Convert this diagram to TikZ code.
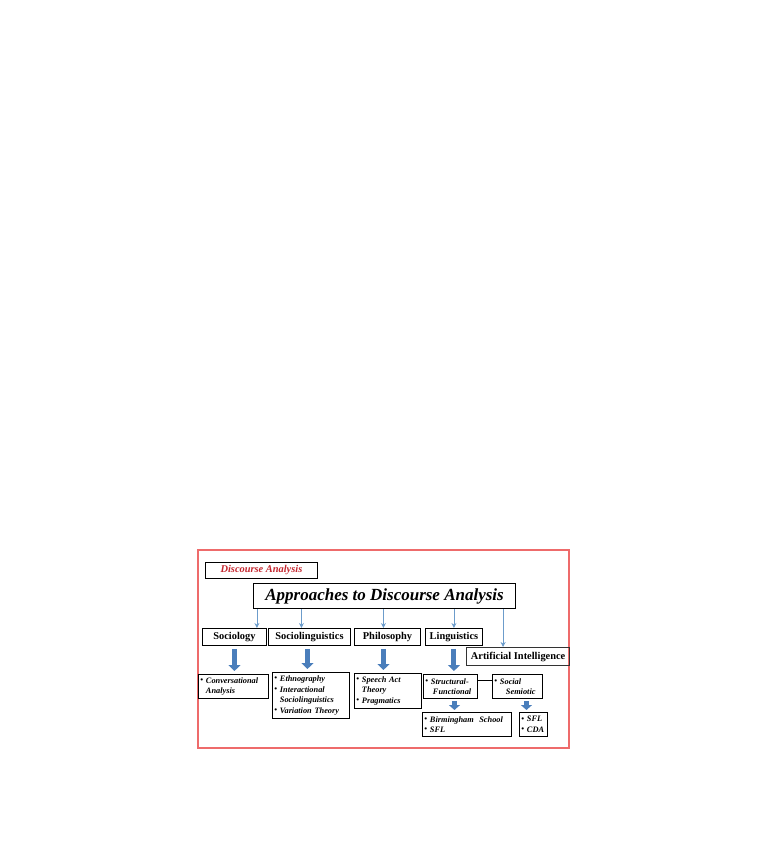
\documentclass[tikz,border=0pt]{standalone}
\usepackage{fontspec}
\setmainfont{Liberation Serif}
\usepackage{xcolor}
\usetikzlibrary{arrows.meta, positioning}

\definecolor{framered}{HTML}{EE6B6B}
\definecolor{labelred}{HTML}{C4262E}
\definecolor{thinblue}{HTML}{6C9CCB}
\definecolor{fatblue}{HTML}{4A7EBB}
\newcommand{\bul}{\raisebox{0.8pt}{\scalebox{0.95}{\textbullet}}\ }
\newcommand{\hang}{\phantom{\bul}}

\begin{document}
\begin{tikzpicture}[
  x=1pt, y=-1pt,
  box/.style={draw, line width=0.9pt, inner sep=1pt, anchor=north west},
  headbox/.style={
    box,
    font=\fontsize{10.4}{12}\selectfont\bfseries,
    minimum height=17pt
  },
  itembox/.style={
    box,
    align=left,
    inner xsep=2pt,
    inner ysep=2pt,
    font=\fontsize{8.3}{10.5}\selectfont\bfseries\itshape
  },
  thinarrow/.style={-{Stealth[length=5pt, width=5pt]}, thinblue, line width=0.8pt},
  fatarrow/.style={-{Triangle[length=6pt, width=12pt]}, fatblue, line width=5pt,
    shorten <=3pt, shorten >=3pt},
  smallarrow/.style={fatarrow, -{Triangle[length=5pt, width=11pt]}, line width=4.5pt,
    shorten <=2pt, shorten >=2pt}
]
\useasboundingbox (0,0) rectangle (768,866);

% Frame
\draw[framered, line width=1.5pt] (198,550) rectangle (569,748);

% Nodes
\node[box, minimum width=112pt, minimum height=16pt, text=labelred,
  font=\fontsize{10.4}{12}\selectfont\bfseries\itshape] (label) at (205,562) {Discourse Analysis};
\node[box, line width=1.1pt, minimum width=262pt, minimum height=25pt,
  font=\fontsize{17}{20}\selectfont\bfseries\itshape] (title) at (253,583) {Approaches to Discourse Analysis};

\node[headbox, minimum width=64pt] (soc) at (202,628) {Sociology};
\node[headbox, minimum width=82pt] (sling) at (268,628) {Sociolinguistics};
\node[headbox, minimum width=66pt] (phil) at (354,628) {Philosophy};
\node[headbox, minimum width=57pt] (ling) at (425,628) {Linguistics};
\node[headbox, line width=1.2pt, draw=black!80, minimum width=103pt, minimum height=18pt] (ai) at (466,647) {Artificial Intelligence};

\node[itembox, text width=66pt, minimum height=24pt] (conv) at (198,674) {\bul Conversational\\
\hang Analysis};
\node[itembox, text width=73pt, minimum height=46pt] (ethno) at (272,672) {\bul Ethnography\\
\bul Interactional\\
\hang Sociolinguistics\\
\bul Variation Theory};
\node[itembox, text width=63pt, minimum height=35pt] (speech) at (354,673) {\bul Speech Act\\
\hang Theory\\
\bul Pragmatics};
\node[itembox, text width=50pt, minimum height=24pt] (struct) at (423,674) {\bul Structural-\\
\hang\hspace{2pt}\mbox{Functional}};
\node[itembox, text width=46pt, minimum height=24pt] (semio) at (492,674) {\bul Social\\
\hang\hspace{6pt}Semiotic};
\node[itembox, text width=85pt, minimum height=24pt] (birm) at (422,712) {\bul Birmingham~~School\\
\bul SFL};
\node[itembox, text width=24pt, minimum height=24pt] (sfl) at (519,712) {\bul SFL\\
\bul CDA};

% Arrows
\draw[thinarrow] ([xshift=-10pt]soc.north east |- title.south) -- ([xshift=-10pt]soc.north east);
\draw[thinarrow] ([xshift=-8pt]sling.north |- title.south) -- ([xshift=-8pt]sling.north);
\draw[thinarrow] ([xshift=-4pt]phil.north |- title.south) -- ([xshift=-4pt]phil.north);
\draw[thinarrow] (ling.north |- title.south) -- (ling.north);
\draw[thinarrow] ([xshift=-15pt]ai.north |- title.south) -- ([xshift=-15pt]ai.north);

\draw[fatarrow] (soc.south) -- (soc.south |- conv.north);
\draw[fatarrow] ([xshift=-2pt]sling.south) -- ([xshift=-2pt]sling.south |- ethno.north);
\draw[fatarrow] ([xshift=-4pt]phil.south) -- ([xshift=-4pt]phil.south |- speech.north);
\draw[fatarrow] (ling.south) -- (ling.south |- struct.north);

\draw[line width=0.9pt] ([yshift=6pt]struct.east) -- ([yshift=6pt]struct.east -| semio.west);
\draw[smallarrow] ([xshift=4pt]struct.south) -- ([xshift=4pt]struct.south |- birm.north);
\draw[smallarrow] ([xshift=9pt]semio.south) -- ([xshift=9pt]semio.south |- sfl.north);

\end{tikzpicture}
\end{document}
